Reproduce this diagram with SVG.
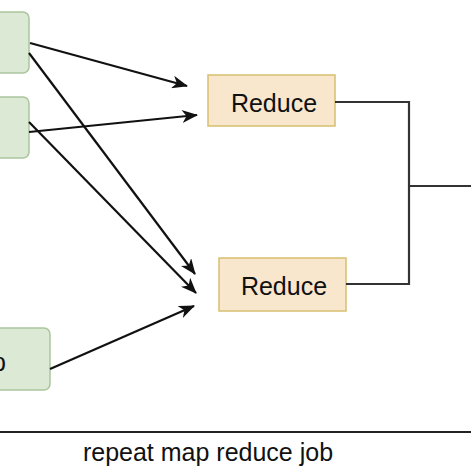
<svg xmlns="http://www.w3.org/2000/svg" width="471" height="471" viewBox="0 0 471 471">
<defs>
<marker id="ah" markerWidth="16" markerHeight="13" refX="15" refY="6.5" orient="auto" markerUnits="userSpaceOnUse">
<path d="M0,0 L16,6.5 L0,13 L4.5,6.5 z" fill="#111"/>
</marker>
<style>
.map{fill:#dbe9d5;stroke:#aac59d;stroke-width:1.5}
.red{fill:#f8e6cd;stroke:#d7bf70;stroke-width:1.5}
.lbl{font-family:"Liberation Sans",Arial,sans-serif;font-size:25px;fill:#111;text-anchor:middle}
.arr{fill:none;stroke:#111;stroke-width:2.2;marker-end:url(#ah)}
.con{fill:none;stroke:#333;stroke-width:2.2}
</style>
</defs>
<rect width="471" height="471" fill="#fff"/>
<g id="map1"><rect class="map" x="-10" y="12" width="39" height="61" rx="6"/></g>
<g id="map2"><rect class="map" x="-10" y="97" width="39" height="61" rx="6"/></g>
<g id="map3"><rect class="map" x="-10" y="328" width="60" height="62" rx="6"/><text class="lbl" x="-1" y="371">p</text></g>
<g id="reduce1"><rect class="red" x="208" y="75" width="127" height="51"/><text class="lbl" x="274" y="112">Reduce</text></g>
<g id="reduce2"><rect class="red" x="219" y="258" width="127" height="53"/><text class="lbl" x="284" y="295">Reduce</text></g>
<g id="connectors">
<line class="arr" x1="30" y1="43" x2="187" y2="86"/>
<line class="arr" x1="29" y1="53" x2="195" y2="274"/>
<line class="arr" x1="29" y1="132" x2="197" y2="115"/>
<line class="arr" x1="29" y1="122" x2="196" y2="293"/>
<line class="arr" x1="50" y1="369" x2="194" y2="306"/>
<polyline class="con" points="335,102 409,102 409,284 346,284"/>
<line class="con" x1="409" y1="186" x2="471" y2="186"/>
</g>
<line x1="0" y1="432" x2="471" y2="432" stroke="#222" stroke-width="2"/>
<text x="208" y="461" font-family="'Liberation Sans',Arial,sans-serif" font-size="25" fill="#111" text-anchor="middle">repeat map reduce job</text>
</svg>
